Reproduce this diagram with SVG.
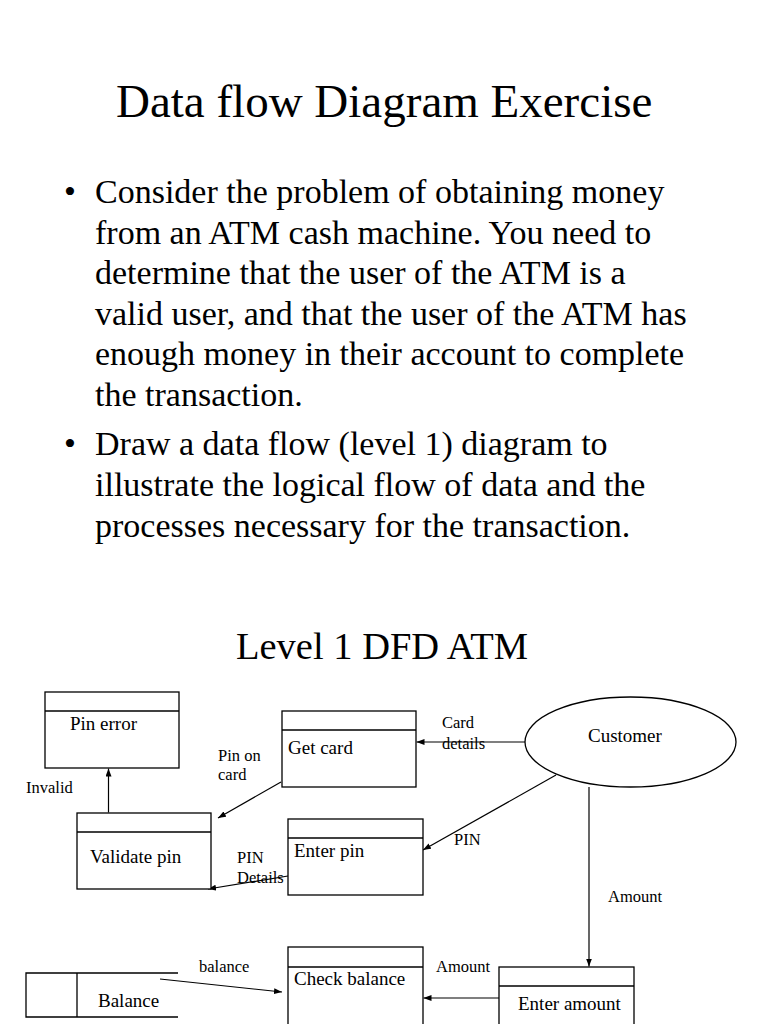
<svg xmlns="http://www.w3.org/2000/svg" width="768" height="1024" viewBox="0 0 768 1024">
<defs>
<style>
text{font-family:"Liberation Serif","Times New Roman",serif;fill:#000}
.title{font-size:47px}
.body{font-size:34px}
.sub{font-size:38.5px}
.lbl{font-size:19px}
.sm{font-size:16.5px}
.box{fill:#fff;stroke:#000;stroke-width:1.3}
.ln{fill:none;stroke:#000;stroke-width:1.3}
.flow{fill:none;stroke:#000;stroke-width:1.2;marker-end:url(#ah)}
</style>
<marker id="ah" viewBox="0 0 8 6" refX="8" refY="3" markerWidth="8" markerHeight="6" markerUnits="userSpaceOnUse" orient="auto">
<path d="M0,0 L8,3 L0,6 z" fill="#000"/>
</marker>
</defs>
<rect width="768" height="1024" fill="#fff"/>
<g id="heading">
<text class="title" x="116" y="117">Data flow Diagram Exercise</text>
</g>
<g id="bullets" class="body">
<text class="body" x="64" y="203">•</text>
<text class="body" x="95" y="203">Consider the problem of obtaining money</text>
<text class="body" x="95" y="243.5">from an ATM cash machine.  You need to</text>
<text class="body" x="95" y="284">determine that the user of the ATM is a</text>
<text class="body" x="95" y="324.5">valid user, and that the user of the ATM has</text>
<text class="body" x="95" y="365">enough money in their account to complete</text>
<text class="body" x="95" y="405.5">the transaction.</text>
<text class="body" x="64" y="455">•</text>
<text class="body" x="95" y="455">Draw a data flow (level 1) diagram to</text>
<text class="body" x="95" y="496">illustrate the logical flow of data and the</text>
<text class="body" x="95" y="537">processes necessary for the transaction.</text>
</g>
<g id="subtitle">
<text class="sub" x="236" y="659">Level 1 DFD ATM</text>
</g>
<g id="connectors">
<line class="flow" x1="108.5" y1="812.5" x2="108.5" y2="768.5"/>
<line class="flow" x1="281" y1="782" x2="218" y2="818"/>
<line class="flow" x1="525" y1="742" x2="416.5" y2="742"/>
<line class="flow" x1="556" y1="775" x2="423" y2="850"/>
<line class="flow" x1="288" y1="876" x2="208" y2="889"/>
<line class="flow" x1="589" y1="787" x2="589" y2="966.5"/>
<line class="flow" x1="499" y1="998" x2="423.5" y2="998"/>
<line class="flow" x1="160" y1="979" x2="282" y2="992"/>
<text class="sm" x="26" y="793">Invalid</text>
<text class="sm" x="218" y="761">Pin on</text>
<text class="sm" x="218" y="780">card</text>
<text class="sm" x="442" y="728">Card</text>
<text class="sm" x="442" y="749">details</text>
<text class="sm" x="454" y="845">PIN</text>
<text class="sm" x="237" y="863">PIN</text>
<text class="sm" x="237" y="883">Details</text>
<text class="sm" x="608" y="902">Amount</text>
<text class="sm" x="436" y="972">Amount</text>
<text class="sm" x="199" y="972">balance</text>
</g>
<g id="pin-error">
<rect class="box" x="45" y="692" width="134" height="76"/>
<line class="ln" x1="45" y1="711" x2="179" y2="711"/>
<text class="lbl" x="70" y="730">Pin error</text>
</g>
<g id="get-card">
<rect class="box" x="282" y="711" width="134" height="76"/>
<line class="ln" x1="282" y1="730" x2="416" y2="730"/>
<text class="lbl" x="288" y="754">Get card</text>
</g>
<g id="customer">
<ellipse class="box" cx="630.5" cy="742" rx="105.5" ry="45"/>
<text class="lbl" x="588" y="742">Customer</text>
</g>
<g id="validate-pin">
<rect class="box" x="77" y="813" width="134" height="76"/>
<line class="ln" x1="77" y1="832" x2="211" y2="832"/>
<text class="lbl" x="90" y="863">Validate pin</text>
</g>
<g id="enter-pin">
<rect class="box" x="288" y="819" width="135" height="76"/>
<line class="ln" x1="288" y1="838" x2="423" y2="838"/>
<text class="lbl" x="294" y="857">Enter pin</text>
</g>
<g id="check-balance">
<rect class="box" x="288" y="947" width="135" height="90"/>
<line class="ln" x1="288" y1="967" x2="423" y2="967"/>
<text class="lbl" x="294" y="985">Check balance</text>
</g>
<g id="enter-amount">
<rect class="box" x="499" y="967" width="135" height="90"/>
<line class="ln" x1="499" y1="986" x2="634" y2="986"/>
<text class="lbl" x="518" y="1010">Enter amount</text>
</g>
<g id="balance-store">
<path class="ln" d="M178,973 H26 V1017 H178 M77,973 V1017"/>
<text class="lbl" x="98" y="1007">Balance</text>
</g>
</svg>
